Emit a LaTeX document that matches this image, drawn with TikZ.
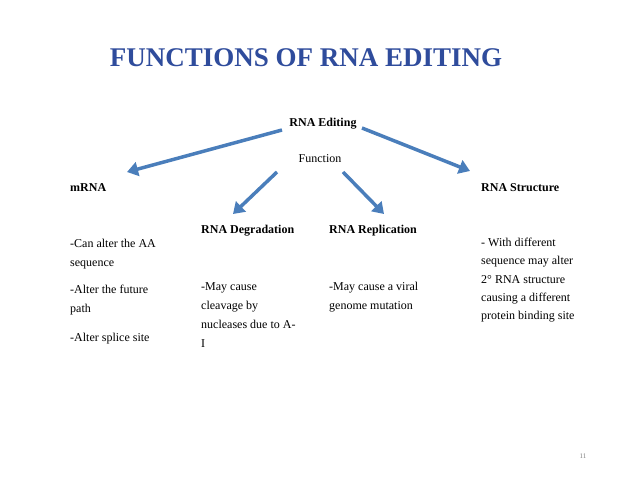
\documentclass[tikz,border=0pt]{standalone}
\usepackage{fontspec}
\setmainfont{Liberation Serif}
\usetikzlibrary{arrows.meta}
\begin{document}
\begin{tikzpicture}[x=1pt,y=-1pt,
  lbl/.style={font=\fontsize{12}{14}\selectfont, inner sep=0pt, anchor=west},
  hd/.style={lbl, font=\fontsize{12}{14}\selectfont\bfseries},
  body/.style={font=\fontsize{12}{19}\selectfont, inner sep=0pt, anchor=north west, align=left},
  arr/.style={draw=arrowblue, line width=3.5pt, -{Triangle[length=11pt,width=14pt]}}]
\definecolor{arrowblue}{HTML}{4A7EBB}
\definecolor{titleblue}{HTML}{2F4C9C}
\useasboundingbox (0,0) rectangle (638,478);
\node[font=\fontsize{27}{30}\selectfont\bfseries, text=titleblue] (title) at (306,58) {FUNCTIONS OF RNA EDITING};
\node[font=\fontsize{12}{14}\selectfont\bfseries] (edit) at (323,124) {RNA Editing};
\node[font=\fontsize{12}{14}\selectfont] (func) at (320,159) {Function};
\node[hd] (mrna) at (70,188) {mRNA};
\node[hd] (struct) at (481,188) {RNA Structure};
\node[hd] (deg) at (201,231) {RNA Degradation};
\node[hd] (rep) at (329,231) {RNA Replication};
\node[body] (mtxt) at (70,239) {-Can alter the AA\\sequence};
\node[body] (mtxt2) at (70,285) {-Alter the future\\path};
\node[body] (mtxt3) at (70,333) {-Alter splice site};
\node[body] (dtxt) at (201,282) {-May cause\\cleavage by\\nucleases due to A-\\I};
\node[body] (rtxt) at (329,282) {-May cause a viral\\genome mutation};
\node[body, font=\fontsize{12}{18.3}\selectfont] (stxt) at (481,238) {- With different\\sequence may alter\\2° RNA structure\\causing a different\\protein binding site};
\node[font=\fontsize{7}{8}\selectfont, text=gray] (pg) at (583,456) {11};
\coordinate (a1s) at (282,130); \coordinate (a1e) at (127,172);
\coordinate (a2s) at (362,128); \coordinate (a2e) at (470,171);
\coordinate (a3s) at (277,172); \coordinate (a3e) at (233,214);
\coordinate (a4s) at (343,172); \coordinate (a4e) at (384,214);
\draw[arr] (a1s) -- (a1e);
\draw[arr] (a2s) -- (a2e);
\draw[arr] (a3s) -- (a3e);
\draw[arr] (a4s) -- (a4e);
\end{tikzpicture}
\end{document}
